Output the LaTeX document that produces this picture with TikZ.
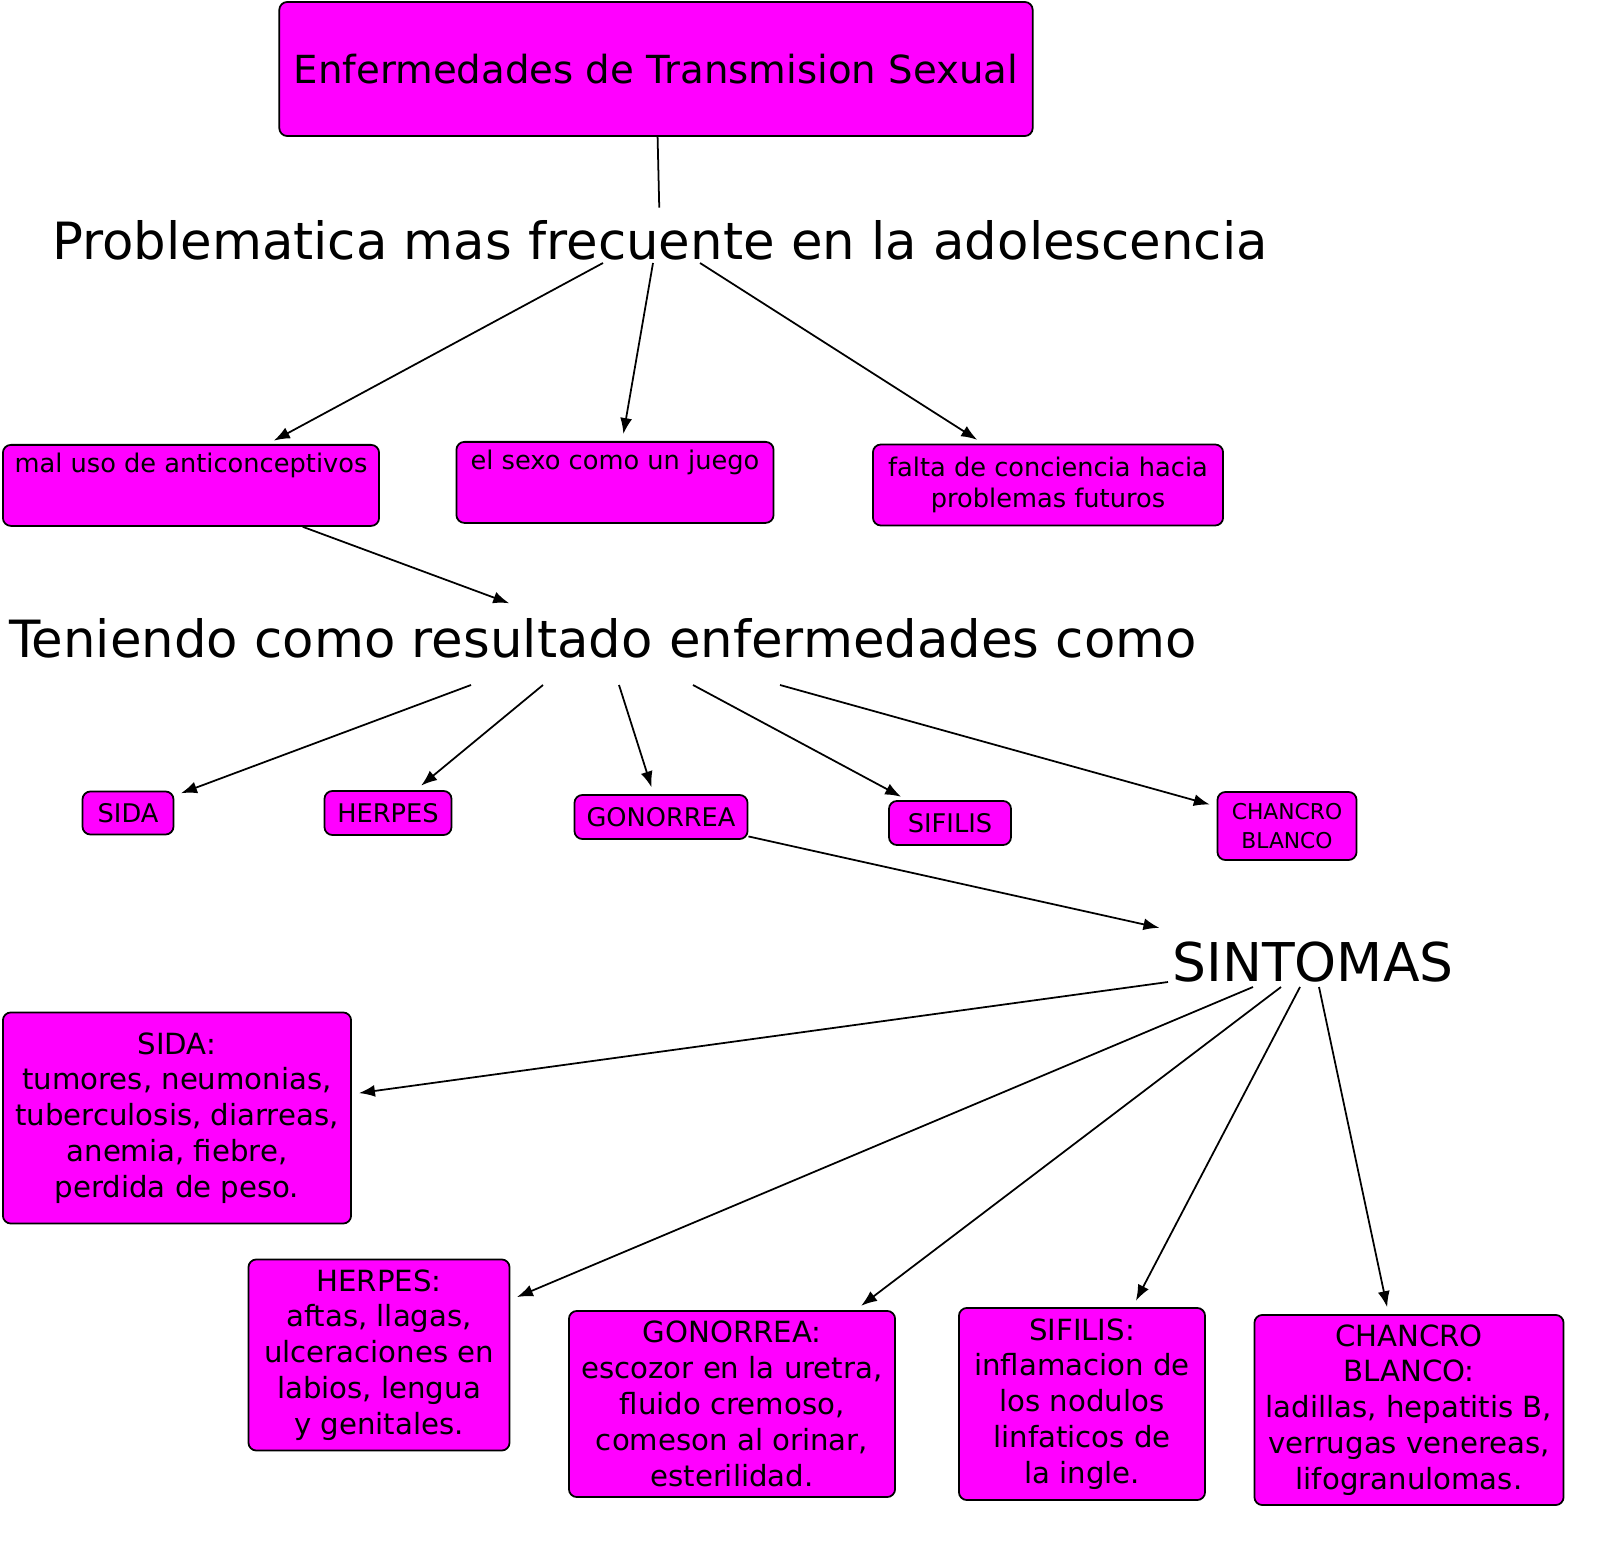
\documentclass[tikz,border=0pt]{standalone}
\usepackage{fontspec}
\setmainfont{DejaVu Sans}
\usetikzlibrary{arrows.meta}
\definecolor{fucsia}{RGB}{255,0,255}
\tikzset{
  caja/.style={draw=black, fill=fucsia, rounded corners=0.08cm, line width=0.5pt, inner sep=0pt},
  flecha/.style={-{Latex[length=0.16cm,width=0.12cm]}, line width=0.5pt, shorten >=2pt},
  grande/.style={font=\fontsize{14.6}{18}\selectfont},
}
\begin{document}
\begin{tikzpicture}[x=0.01cm,y=-0.01cm]
\useasboundingbox (0,0) rectangle (1600,1543);

% titulo
\node[caja, minimum width=7.53cm, minimum height=1.34cm, font=\fontsize{11}{13}\selectfont] (titulo) at (656,69) {Enfermedades de Transmision Sexual};
\node[grande] (prob) at (660,240) {Problematica mas frecuente en la adolescencia};
\draw[line width=0.5pt] (titulo) -- (prob);

% causas
\node[caja, minimum width=3.76cm, minimum height=0.81cm, font=\fontsize{7.3}{9}\selectfont, anchor=north, text depth=0.45cm] (mal) at (191,444) {mal uso de anticonceptivos};
\node[caja, minimum width=3.17cm, minimum height=0.81cm, font=\fontsize{7.3}{9}\selectfont, anchor=north, text depth=0.45cm] (sexo) at (615,441) {el sexo como un juego};
\node[caja, minimum width=3.50cm, minimum height=0.81cm, font=\fontsize{7.3}{9}\selectfont, align=center] (falta) at (1048,485) {falta de conciencia hacia\\ problemas futuros};

\coordinate (p1) at (603,263);
\coordinate (p2) at (653,263);
\coordinate (p3) at (700,263);
\draw[flecha] (p1) -- (mal);
\draw[flecha] (p2) -- (sexo);
\draw[flecha] (p3) -- (falta);

\node[grande] (ten) at (603,638) {Teniendo como resultado enfermedades como};
\draw[flecha] (mal) -- (ten);

% enfermedades
\node[caja, minimum width=0.91cm, minimum height=0.43cm, font=\fontsize{7.3}{9}\selectfont] (sida) at (128,813) {SIDA};
\node[caja, minimum width=1.27cm, minimum height=0.44cm, font=\fontsize{7.3}{9}\selectfont] (herpes) at (388,813) {HERPES};
\node[caja, minimum width=1.73cm, minimum height=0.44cm, font=\fontsize{7.3}{9}\selectfont] (gono) at (661,817) {GONORREA};
\node[caja, minimum width=1.22cm, minimum height=0.44cm, font=\fontsize{7.3}{9}\selectfont] (sifi) at (950,823) {SIFILIS};
\node[caja, minimum width=1.39cm, minimum height=0.68cm, font=\fontsize{6.2}{8}\selectfont, align=center] (chan) at (1287,826) {CHANCRO\\BLANCO};

\coordinate (t1) at (471,685);
\coordinate (t2) at (543,685);
\coordinate (t3) at (619,685);
\coordinate (t4) at (693,685);
\coordinate (t5) at (780,685);
\draw[flecha] (t1) -- (sida);
\draw[flecha] (t2) -- (herpes);
\draw[flecha] (t3) -- (gono);
\draw[flecha] (t4) -- (sifi);
\draw[flecha] (t5) -- (chan);

\node[font=\fontsize{15.2}{18}\selectfont] (sint) at (1313,962) {SINTOMAS};
\draw[flecha] (gono) -- (sint);

% sintomas
\node[caja, minimum width=3.48cm, minimum height=2.11cm, font=\fontsize{8.3}{10.2}\selectfont, align=center] (ssida) at (177,1118) {SIDA:\\tumores, neumonias,\\tuberculosis, diarreas,\\anemia, fiebre,\\perdida de peso.};
\node[caja, minimum width=2.61cm, minimum height=1.91cm, font=\fontsize{8.3}{10.2}\selectfont, align=center] (sherpes) at (379,1355) {HERPES:\\aftas, llagas,\\ulceraciones en\\labios, lengua\\y genitales.};
\node[caja, minimum width=3.26cm, minimum height=1.86cm, font=\fontsize{8.3}{10.2}\selectfont, align=center] (sgono) at (732,1404) {GONORREA:\\escozor en la uretra,\\fluido cremoso,\\comeson al orinar,\\esterilidad.};
\node[caja, minimum width=2.46cm, minimum height=1.92cm, font=\fontsize{8.3}{10.2}\selectfont, align=center] (ssifi) at (1082,1404) {SIFILIS:\\inflamacion de\\los nodulos\\linfaticos de\\la ingle.};
\node[caja, minimum width=3.09cm, minimum height=1.90cm, font=\fontsize{8.3}{10.2}\selectfont, align=center] (schan) at (1409,1410) {CHANCRO\\BLANCO:\\ladillas, hepatitis B,\\verrugas venereas,\\lifogranulomas.};

\coordinate (s1) at (1168,982);
\coordinate (s2) at (1253,987);
\coordinate (s3) at (1281,987);
\coordinate (s4) at (1300,987);
\coordinate (s5) at (1319,987);
\draw[flecha] (s1) -- (ssida);
\draw[flecha] (s2) -- (sherpes);
\draw[flecha] (s3) -- (sgono);
\draw[flecha] (s4) -- (ssifi);
\draw[flecha] (s5) -- (schan);
\end{tikzpicture}
\end{document}
